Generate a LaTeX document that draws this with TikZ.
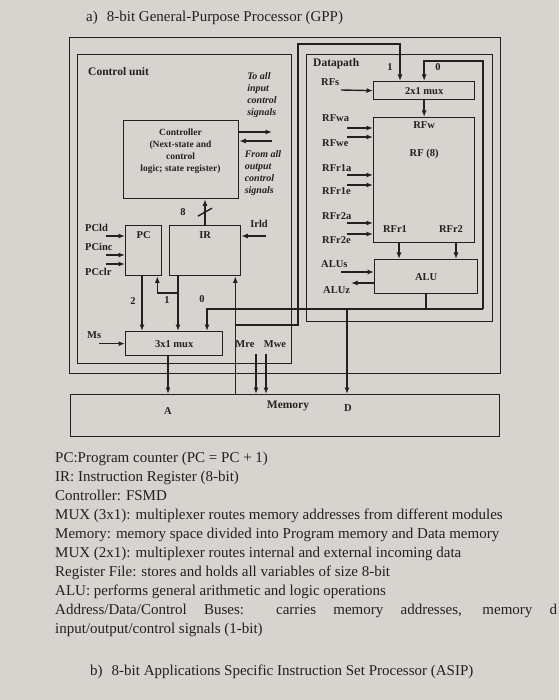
\documentclass[tikz,border=0pt]{standalone}
\usepackage{fontspec}
\setmainfont{Liberation Serif}
\usetikzlibrary{arrows.meta}
\definecolor{paper}{RGB}{214,212,207}
\definecolor{ink}{RGB}{34,32,32}

\tikzset{
  box/.style={draw=ink, line width=1.3pt, text=ink, inner sep=0pt, anchor=north west,
    font=\fontsize{10.5}{12}\selectfont\bfseries},
  wire/.style={draw=ink, line width=1.4pt, -{Latex[length=6.5pt,width=5pt]}},
  plain/.style={draw=ink, line width=1.4pt},
  lbl/.style={text=ink, inner sep=0pt, font=\fontsize{10.5}{12}\selectfont\bfseries},
  sig/.style={lbl, anchor=west},
  head/.style={lbl, anchor=west, font=\fontsize{11.5}{13}\selectfont\bfseries},
  side/.style={lbl, align=left, font=\fontsize{10}{12}\selectfont\bfseries\itshape},
  note/.style={text=ink, inner sep=0pt, anchor=base west, font=\fontsize{15}{17}\selectfont},
}

\begin{document}
\begin{tikzpicture}[x=1pt,y=-1pt]

% Page
\fill[paper] (0,0) rectangle (559,700);
\useasboundingbox (0,0) rectangle (559,700);

\node[note] (title) at (86,22) {a)\hspace{0.6em}8-bit General-Purpose Processor (GPP)};

% Processor, control unit, datapath and memory outlines
\node[box, minimum width=431pt, minimum height=336pt] (cpu) at (69,37) {};
\node[box, minimum width=214pt, minimum height=309pt] (cu) at (77,54) {};
\node[box, minimum width=186pt, minimum height=267pt] (dp) at (306,54) {};
\node[box, minimum width=429pt, minimum height=42pt] (mem) at (70,394) {};

\node[head] (culbl) at (88,72) {Control unit};
\node[head] (dplbl) at (313,64) {Datapath};

% Control unit blocks
\node[box, minimum width=115pt, minimum height=78pt] (ctrl) at (123,120) {};
\node[lbl, align=center, font=\fontsize{9.5}{12}\selectfont\bfseries] (ctrltxt) at (180.5,151)
  {Controller\\(Next-state and\\control\\logic; state register)};
\node[box, minimum width=36pt, minimum height=50pt] (pc) at (125,225) {};
\node[box, minimum width=71pt, minimum height=50pt] (ir) at (169,225) {};
\node[lbl] (pclbl) at ([yshift=-10pt]pc.north) {PC};
\node[lbl] (irlbl) at ([yshift=-10pt]ir.north) {IR};
\node[box, minimum width=97pt, minimum height=24pt] (muxa) at (125,331) {3x1 mux};

% Control signals of the controller
\node[side] (toall) at (262,95) {To all\\input\\control\\signals};
\node[side] (fromall) at (263,173) {From all\\output\\control\\signals};
\draw[wire] (ctrl.east |- 0,132) -- (272,132);
\draw[wire] (272,141) -- (ctrl.east |- 0,141);

% IR to controller (8 bit)
\coordinate (irup) at ([xshift=36pt]ir.north west);
\draw[wire] (irup) -- (irup |- ctrl.south) coordinate[pos=0.5] (bus8);
\draw[plain] ([xshift=-7pt,yshift=-4pt]bus8) -- ([xshift=7pt,yshift=4pt]bus8);
\node[lbl] (w8) at (183,212) {8};

\node[lbl] (Irld) at (259,224) {Irld};
\draw[wire] (266,236) -- (ir.east |- 0,236);

% PC inputs
\foreach \sname/\ly/\ay in {PCld/228/236, PCinc/247/255, PCclr/272/264} {
  \node[sig] (\sname) at (85,\ly) {\sname};
  \draw[wire] (106,\ay) -- (pc.west |- 0,\ay);
}

% Address mux inputs
\coordinate (a2) at ([xshift=17pt]muxa.north west);
\coordinate (a1) at ([xshift=53pt]muxa.north west);
\coordinate (a0) at ([xshift=82pt]muxa.north west);
\coordinate (ao) at ([xshift=43pt]muxa.south west);
\draw[wire] (pc.south -| a2) -- (a2);
\draw[wire] (ir.south -| a1) -- (a1);
\coordinate (irbr) at (a1 |- 0,293);
\draw[wire] (irbr) -| ([xshift=-5pt]pc.south east);
\node[lbl] (n2) at (133,301) {2};
\node[lbl] (n1) at (167,300) {1};
\node[lbl] (n0) at (202,299) {0};

\node[sig] (Ms) at (87,335) {Ms};
\draw[wire] ([xshift=-26pt]muxa.west) -- (muxa.west);
\draw[wire] (ao) -- (mem.north -| ao);

% Memory read / write
\node[lbl] (Mre) at (245,344) {Mre};
\node[lbl] (Mwe) at (275,344) {Mwe};
\draw[wire] (256,354) -- (mem.north -| 256,0);
\draw[wire] (266,354) -- (mem.north -| 266,0);

% Datapath blocks
\node[box, minimum width=101pt, minimum height=18pt] (muxb) at (373,81) {2x1 mux};
\node[box, minimum width=101pt, minimum height=125pt] (rf) at (373,117) {};
\node[box, minimum width=103pt, minimum height=34pt] (alu) at (374,259) {ALU};
\node[lbl] (rfw) at (rf.north |- 0,125) {RFw};
\node[lbl] (rf8) at (rf.center |- 0,154) {RF (8)};
\node[lbl] (rfr1) at (395,229) {RFr1};
\node[lbl] (rfr2) at (451,229) {RFr2};

\coordinate (b1) at ([xshift=27pt]muxb.north west);
\node[lbl] (in1) at (390,67) {1};
\node[lbl] (in0) at (438,67) {0};
\draw[wire] (muxb.south) -- (rf.north);
\draw[wire] (rf.south -| 399,0) -- (alu.north -| 399,0);
\draw[wire] (rf.south -| 456,0) -- (alu.north -| 456,0);

% Datapath control signals
\node[sig] (RFs) at (321,82) {RFs};
\draw[wire] (341,90) -- (muxb.west);
\foreach \sname/\ly/\ay in {RFwa/118/128, RFwe/143/137, RFr1a/168/175, RFr1e/191/185, RFr2a/216/223, RFr2e/240/234} {
  \node[sig] (\sname) at (322,\ly) {\sname};
  \draw[wire] (347,\ay) -- (rf.west |- 0,\ay);
}
\node[sig] (ALUs) at (321,264) {ALUs};
\draw[wire] (341,272) -- (alu.west |- 0,272);
\draw[wire] (alu.west |- 0,283) -- (351,283);
\node[sig] (ALUz) at (323,290) {ALUz};

% Memory data to IR and register file
\coordinate (irin) at ([xshift=-6pt]ir.south east);
\draw[wire] (mem.north -| irin) -- (irin);
\draw[wire] (irin |- 0,325) -| (298,44) -| (b1);

% ALU bus
\draw[plain] (alu.south) -- (alu.south |- 0,309);
\draw[wire] (483,309) -- (483,61) -| (muxb.north);
\draw[wire] (483,309) -| (a0);
\draw[wire] (347,309) -- (mem.north -| 347,0);

% Memory labels
\node[lbl, font=\fontsize{11.5}{13}\selectfont\bfseries] (memlbl) at (288,406) {Memory};
\node[lbl] (A) at (168,411) {A};
\node[lbl] (D) at (348,408) {D};

% Notes
\node[note] (l1) at (55,462) {PC:Program counter (PC = PC + 1)};
\node[note] (l2) at (55,481) {IR: Instruction Register (8-bit)};
\node[note] (l3) at (55,500) {Controller: FSMD};
\node[note] (l4) at (55,519) {MUX (3x1): multiplexer routes memory addresses from different modules};
\node[note] (l5) at (55,538) {Memory: memory space divided into Program memory and Data memory};
\node[note] (l6) at (55,557) {MUX (2x1): multiplexer routes internal and external incoming data};
\node[note] (l7) at (55,576) {Register File: stores and holds all variables of size 8-bit};
\node[note] (l8) at (55,595) {ALU: performs general arithmetic and logic operations};
\node[note] (l9) at (55,614) {\makebox[502pt][s]{Address/Data/Control Buses: carries memory addresses, memory d}};
\node[note] (l10) at (55,633) {input/output/control signals (1-bit)};
\node[note] (l11) at (90,675) {b)\hspace{0.6em}8-bit Applications Specific Instruction Set Processor (ASIP)};

\end{tikzpicture}
\end{document}
